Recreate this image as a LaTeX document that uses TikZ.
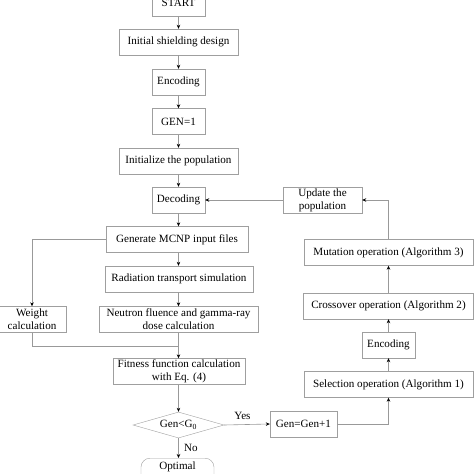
\documentclass[tikz,border=0pt]{standalone}
\usepackage{fontspec}
\setmainfont{Liberation Serif}
\usetikzlibrary{positioning,arrows.meta,shapes.geometric}

\begin{document}
\begin{tikzpicture}[
  x=1pt, y=-1pt,
  font=\fontsize{11.1}{13}\selectfont,
  stepbox/.style={draw=gray!75, align=center, inner sep=1pt, minimum height=26pt},
  decision/.style={draw=gray!75, diamond, aspect=3.5, inner sep=0pt,
    minimum width=91pt, minimum height=26pt},
  terminal/.style={draw=gray!75, rounded corners=9pt, align=center,
    minimum height=26pt},
  flow/.style={-{Stealth[length=4pt,width=3.5pt,black]}, gray!80, line width=0.6pt},
  plain/.style={gray!80, line width=0.6pt},
  tag/.style={text=black}
]
\useasboundingbox (0,0) rectangle (474,474);
\clip (0,0) rectangle (474,474);

% main column
\node[stepbox, minimum width=53pt] (start) at (178.5,3) {START};
\node[stepbox, minimum width=119pt] (design) at (178.5,42) {Initial shielding design};
\node[stepbox, minimum width=53pt] (encode) at (178.5,82) {Encoding};
\node[stepbox, minimum width=53pt] (genone) at (178.5,121.5) {GEN=1};
\node[stepbox, minimum width=119pt] (initpop) at (178.5,161) {Initialize the population};
\node[stepbox, minimum width=53pt] (decode) at (178.5,200) {Decoding};
\node[stepbox, minimum width=142pt] (mcnp) at (177,239.5) {Generate MCNP input files};
\node[stepbox, minimum width=148pt] (transport) at (179,279) {Radiation transport simulation};
\node[stepbox, minimum width=159pt] (fluence) at (178.5,319.5) {Neutron fluence and gamma-ray\\dose calculation};
\node[stepbox, minimum width=68pt] (weight) at (32,319.5) {Weight\\calculation};
\node[stepbox, minimum width=132pt] (fitness) at (179,371.5) {Fitness function calculation\\with Eq. (4)};
\node[decision] (check) at (178.5,425) {Gen<G\textsubscript{0}};
\node[terminal, minimum width=73pt, anchor=north] (optimal) at (177.5,458) {Optimal\\[14pt]};

% GA loop
\node[stepbox, minimum width=67pt] (genplus) at (303.5,424) {Gen=Gen+1};
\node[stepbox, minimum width=169pt] (select) at (388.5,384.5) {Selection operation (Algorithm 1)};
\node[stepbox, minimum width=53pt] (reencode) at (388.5,345) {Encoding};
\node[stepbox, minimum width=170pt] (cross) at (388.5,306) {Crossover operation (Algorithm 2)};
\node[stepbox, minimum width=169pt] (mutate) at (388.5,252.5) {Mutation operation (Algorithm 3)};
\node[stepbox, minimum width=79pt] (update) at (322.5,200) {Update the\\population};

\coordinate (merge) at (178.5,346);

\draw[flow] (start) -- (design);
\draw[flow] (design) -- (encode);
\draw[flow] (encode) -- (genone);
\draw[flow] (genone) -- (initpop);
\draw[flow] (initpop) -- (decode);
\draw[flow] (decode) -- (mcnp.north -| decode);
\draw[flow] (mcnp.south -| decode) -- (transport.north -| decode);
\draw[flow] (transport.south -| decode) -- (fluence.north -| decode);
\draw[flow] (mcnp.west) -| (weight.north);
\draw[plain] (weight.south) |- (merge);
\draw[flow] (fluence.south -| decode) -- (fitness.north -| decode);
\draw[flow] (fitness.south -| check) -- (check.north);
\draw[flow] (check.south) -- node[tag, right=2pt] {No} (optimal.north -| check);
\draw[flow] (check.east) -- node[tag, above=1pt, pos=0.4] {Yes} (genplus.west);
\draw[flow] (genplus.east) -| (select.south);
\draw[flow] (select) -- (reencode);
\draw[flow] (reencode) -- (cross);
\draw[flow] (cross) -- (mutate);
\draw[flow] (mutate.north) |- (update.east);
\draw[flow] (update.west) -- (decode.east);

\end{tikzpicture}
\end{document}
